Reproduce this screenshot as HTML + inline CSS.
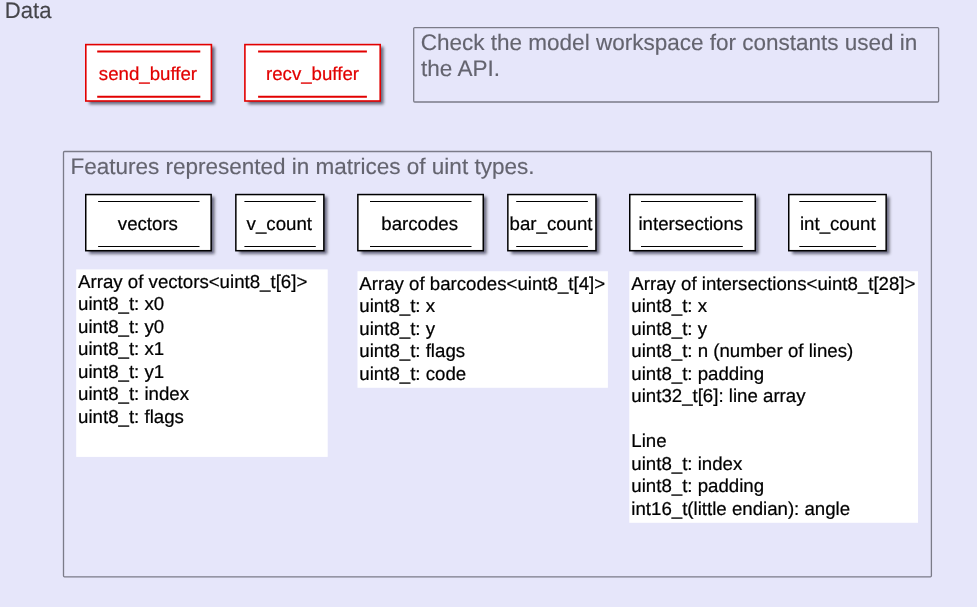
<!DOCTYPE html>
<html><head><meta charset="utf-8">
<style>
html,body{margin:0;padding:0;}
body{width:977px;height:607px;background:#e6e6fa;overflow:hidden;}
svg{display:block;will-change:transform;text-rendering:geometricPrecision;font-family:"Liberation Sans",Arial,sans-serif;}
.lbl{font-size:18.67px;stroke-width:0.22px;}
.body{font-size:18.67px;fill:#000;stroke:#000;stroke-width:0.22px;}
.note{font-size:22.5px;fill:#64646f;stroke:#64646f;stroke-width:0.15px;}
</style></head><body>
<svg width="977" height="607" viewBox="0 0 977 607">
<defs>
<filter id="sh" x="-10%" y="-20%" width="125%" height="145%">
<feGaussianBlur stdDeviation="1.75"/>
</filter>
</defs>
<rect width="977" height="607" fill="#e6e6fa"/>
<text x="4.8" y="18" style="font-size:22.3px;fill:#45454a;stroke:#45454a;stroke-width:0.15px" transform="translate(4.8 0) scale(0.99 1.015) translate(-4.8 -0.25)">Data</text>

<rect x="413.7" y="27.6" width="524.9" height="74.4" rx="1" fill="none" stroke="#7b7b88" stroke-width="1.3"/>
<g class="note">
<text x="420.8" y="49.8">Check the model workspace for constants used in</text>
<text x="421.1" y="75.9">the API.</text>
</g>

<rect x="63.5" y="151.5" width="867.9" height="425.3" rx="1" fill="none" stroke="#7b7b88" stroke-width="1.3"/>
<g class="note"><text x="70.45" y="173.7">Features represented in matrices of uint types.</text></g>

<rect x="89.20" y="46.80" width="125.60" height="57.50" fill="#000010" fill-opacity="0.55" filter="url(#sh)"/><rect x="85.80" y="44.60" width="125.60" height="56.40" fill="#fff" stroke="#e20000" stroke-width="1.6"/><path d="M97.20 51.50H200.30M97.20 96.70H200.30" stroke="#e20000" stroke-width="2.0" fill="none"/>
<rect x="248.30" y="46.80" width="135.30" height="57.50" fill="#000010" fill-opacity="0.55" filter="url(#sh)"/><rect x="244.90" y="44.60" width="135.30" height="56.40" fill="#fff" stroke="#e20000" stroke-width="1.6"/><path d="M258.10 51.50H366.90M258.10 96.70H366.90" stroke="#e20000" stroke-width="2.0" fill="none"/>
<rect x="89.20" y="196.80" width="125.30" height="57.15" fill="#000010" fill-opacity="0.55" filter="url(#sh)"/><rect x="85.75" y="194.55" width="125.40" height="56.15" fill="#fff" stroke="#000" stroke-width="1.5"/><path d="M98.10 201.50H199.50M98.10 246.50H199.50" stroke="#000" stroke-width="1.0" fill="none"/>
<rect x="239.30" y="196.80" width="87.90" height="57.15" fill="#000010" fill-opacity="0.55" filter="url(#sh)"/><rect x="235.85" y="194.55" width="88.00" height="56.15" fill="#fff" stroke="#000" stroke-width="1.5"/><path d="M244.40 201.50H315.80M244.40 246.50H315.80" stroke="#000" stroke-width="1.0" fill="none"/>
<rect x="361.30" y="196.80" width="125.30" height="57.15" fill="#000010" fill-opacity="0.55" filter="url(#sh)"/><rect x="357.85" y="194.55" width="125.40" height="56.15" fill="#fff" stroke="#000" stroke-width="1.5"/><path d="M370.00 201.50H471.50M370.00 246.50H471.50" stroke="#000" stroke-width="1.0" fill="none"/>
<rect x="511.30" y="196.80" width="88.00" height="57.15" fill="#000010" fill-opacity="0.55" filter="url(#sh)"/><rect x="507.85" y="194.55" width="88.10" height="56.15" fill="#fff" stroke="#000" stroke-width="1.5"/><path d="M516.20 201.50H587.90M516.20 246.50H587.90" stroke="#000" stroke-width="1.0" fill="none"/>
<rect x="633.20" y="196.80" width="125.40" height="57.15" fill="#000010" fill-opacity="0.55" filter="url(#sh)"/><rect x="629.75" y="194.55" width="125.50" height="56.15" fill="#fff" stroke="#000" stroke-width="1.5"/><path d="M641.00 201.50H742.80M641.00 246.50H742.80" stroke="#000" stroke-width="1.0" fill="none"/>
<rect x="792.20" y="196.80" width="97.30" height="57.15" fill="#000010" fill-opacity="0.55" filter="url(#sh)"/><rect x="788.75" y="194.55" width="97.40" height="56.15" fill="#fff" stroke="#000" stroke-width="1.5"/><path d="M799.30 201.50H876.10M799.30 246.50H876.10" stroke="#000" stroke-width="1.0" fill="none"/>

<g class="lbl" fill="#e20000" stroke="#e20000">
<text x="98.8" y="79.6">send_buffer</text>
<text x="266.0" y="79.6">recv_buffer</text>
</g>
<g class="lbl" fill="#000" stroke="#000">
<text x="117.8" y="229.6">vectors</text>
<text x="246.6" y="229.6">v_count</text>
<text x="381.3" y="229.6">barcodes</text>
<text x="509.55" y="229.6">bar_count</text>
<text x="638.45" y="229.6">intersections</text>
<text x="799.95" y="229.6">int_count</text>
</g>

<rect x="76.2" y="269.4" width="251.5" height="187.5" fill="#fff"/>
<rect x="357.5" y="271.2" width="250.4" height="116.6" fill="#fff"/>
<rect x="629.3" y="271.2" width="288.7" height="251.6" fill="#fff"/>
<g class="body">
<text x="78.1" y="287.80">Array of vectors&lt;uint8_t[6]&gt;</text>
<text x="78.1" y="310.30">uint8_t: x0</text>
<text x="78.1" y="332.80">uint8_t: y0</text>
<text x="78.1" y="355.30">uint8_t: x1</text>
<text x="78.1" y="377.80">uint8_t: y1</text>
<text x="78.1" y="400.30">uint8_t: index</text>
<text x="78.1" y="422.80">uint8_t: flags</text>
<text x="359.3" y="289.60">Array of barcodes&lt;uint8_t[4]&gt;</text>
<text x="359.3" y="312.10">uint8_t: x</text>
<text x="359.3" y="334.60">uint8_t: y</text>
<text x="359.3" y="357.10">uint8_t: flags</text>
<text x="359.3" y="379.60">uint8_t: code</text>
<text x="631.3" y="289.60">Array of intersections&lt;uint8_t[28]&gt;</text>
<text x="631.3" y="312.10">uint8_t: x</text>
<text x="631.3" y="334.60">uint8_t: y</text>
<text x="631.3" y="357.10">uint8_t: n (number of lines)</text>
<text x="631.3" y="379.60">uint8_t: padding</text>
<text x="631.3" y="402.10">uint32_t[6]: line array</text>
<text x="631.3" y="447.10">Line</text>
<text x="631.3" y="469.60">uint8_t: index</text>
<text x="631.3" y="492.10">uint8_t: padding</text>
<text x="631.3" y="514.60">int16_t(little endian): angle</text>
</g>
</svg>
</body></html>
